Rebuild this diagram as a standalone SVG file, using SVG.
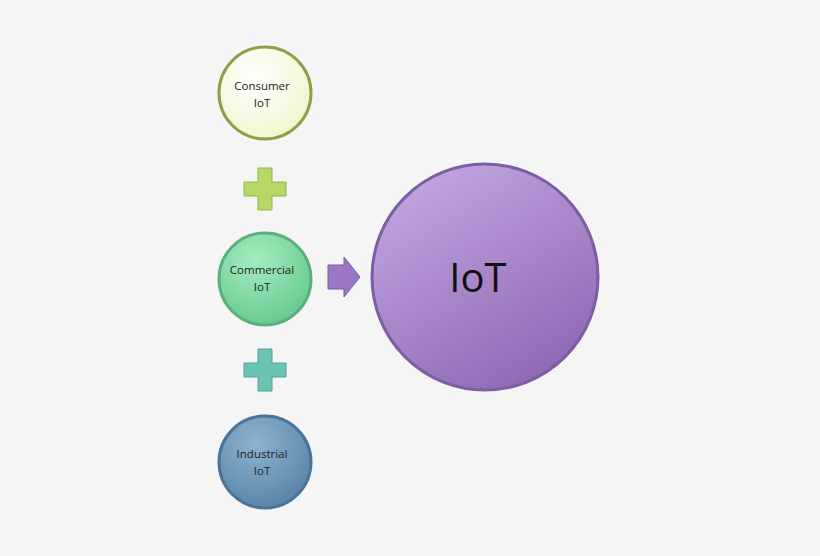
<svg xmlns="http://www.w3.org/2000/svg" width="820" height="556" viewBox="0 0 820 556">
<defs>
<radialGradient id="g1" cx="0.4" cy="0.35" r="0.7"><stop offset="0" stop-color="#ffffff"/><stop offset="1" stop-color="#f0f5cc"/></radialGradient>
<radialGradient id="g2" cx="0.4" cy="0.3" r="0.7"><stop offset="0" stop-color="#a6ecc0"/><stop offset="1" stop-color="#6acb92"/></radialGradient>
<radialGradient id="g3" cx="0.4" cy="0.3" r="0.7"><stop offset="0" stop-color="#8fb2cf"/><stop offset="1" stop-color="#5a86ab"/></radialGradient>
<linearGradient id="g4" x1="0.2" y1="0" x2="0.8" y2="1"><stop offset="0" stop-color="#c3a6e3"/><stop offset="1" stop-color="#8a66b0"/></linearGradient>
<style>
.t{font-family:"Open Sans","Liberation Sans",sans-serif;font-size:11.5px;fill:#222;text-anchor:middle}
</style>
</defs>
<rect width="820" height="556" fill="#f5f5f5"/>
<g id="consumer"><circle cx="265" cy="93" r="46" fill="url(#g1)" stroke="#8ca048" stroke-width="3"/><text class="t" x="262" y="90">Consumer</text><text class="t" x="262" y="107">IoT</text></g>
<g id="commercial"><circle cx="265" cy="279" r="46" fill="url(#g2)" stroke="#58b07c" stroke-width="3"/><text class="t" x="262" y="274">Commercial</text><text class="t" x="262" y="291">IoT</text></g>
<g id="industrial"><circle cx="265" cy="462" r="46" fill="url(#g3)" stroke="#4b7396" stroke-width="3"/><text class="t" x="262" y="458">Industrial</text><text class="t" x="262" y="475">IoT</text></g>
<g id="iot"><circle cx="485" cy="277" r="113" fill="url(#g4)" stroke="#7d5ea0" stroke-width="3"/><text x="478" y="292" style="font-family:'Open Sans','Liberation Sans',sans-serif;font-size:40px;fill:#111;text-anchor:middle">IoT</text></g>
<g id="connectors">
<path d="M258 168h14v14h14v14h-14v14h-14v-14h-14v-14h14z" fill="#b6d866" stroke="#93b54a"/>
<path d="M258 349h14v14h14v14h-14v14h-14v-14h-14v-14h14z" fill="#6cc2b4" stroke="#4fa596"/>
<path d="M328 265h16v-8l16 20l-16 20v-8h-16z" fill="#9a77c4" stroke="#7a5aa3"/>
</g>
</svg>
